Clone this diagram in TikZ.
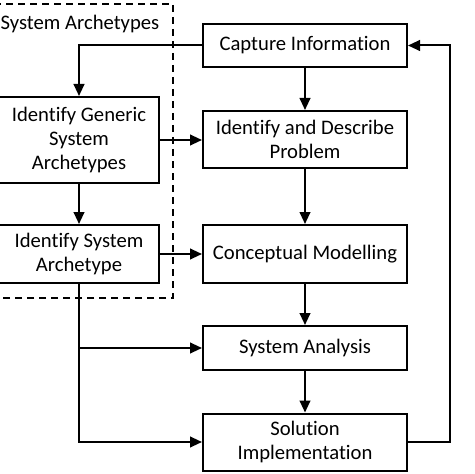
\documentclass[tikz,border=0pt]{standalone}
\usepackage{fontspec}
\setmainfont{Carlito}[Ligatures=NoCommon]
\usetikzlibrary{arrows.meta}

\begin{document}
\begin{tikzpicture}[x=0.75pt,y=0.75pt,yscale=-1,xscale=1,
  box/.style={draw, line width=1.5pt, align=center, inner sep=0.75pt,
    font=\fontsize{15.5}{18}\selectfont},
  rbox/.style={box, minimum width=153pt},
  lbox/.style={box, minimum width=120pt},
  arr/.style={line width=1.5pt, -{Triangle[length=9pt,width=8pt]}}]
\useasboundingbox (0,0) rectangle (474,474);
\clip (0,0) rectangle (474,474);

%Shape: Dashed frame
\draw [line width=1.1pt, dash pattern=on 5.5pt off 3.5pt] (-6,4) -- (173,4) -- (173,298) -- (-6,298) ;

% Text Node
\node (title) at (80,24) [font=\fontsize{15.5}{18}\selectfont] {System Archetypes};

% right column
\node (cap) at (305,45.5) [rbox, minimum height=32.25pt] {Capture Information};
\node (idp) at (305,139.5) [rbox, minimum height=42.75pt] {Identify and Describe\\Problem};
\node (con) at (305,254) [rbox, minimum height=43.5pt] {Conceptual Modelling};
\node (sa) at (305,348) [rbox, minimum height=33pt] {System Analysis};
\node (sol) at (305,442) [rbox, minimum height=42.75pt] {Solution\\Implementation};

% left column
\node (gen) at (79,140) [lbox, minimum height=64.5pt] {Identify Generic\\System\\Archetypes};
\node (sys) at (79,254) [lbox, minimum height=43.5pt] {Identify System\\Archetype};

\coordinate (fb) at (450,442);

% connectors
\draw [arr] (cap.west) -| (gen.north);
\draw [arr] (gen.east) -- (gen.east -| idp.west);
\draw [arr] (gen) -- (sys);
\draw [arr] (sys.east) -- (sys.east -| con.west);
\draw [arr] (cap) -- (idp);
\draw [arr] (idp) -- (con);
\draw [arr] (con) -- (sa);
\draw [arr] (sa) -- (sol);
\draw [arr] (sys.south) |- (sa.west);
\draw [arr] (sys.south) |- (sol.west);
\draw [arr] (sol.east) -- (fb) |- (cap.east);

\end{tikzpicture}
\end{document}
